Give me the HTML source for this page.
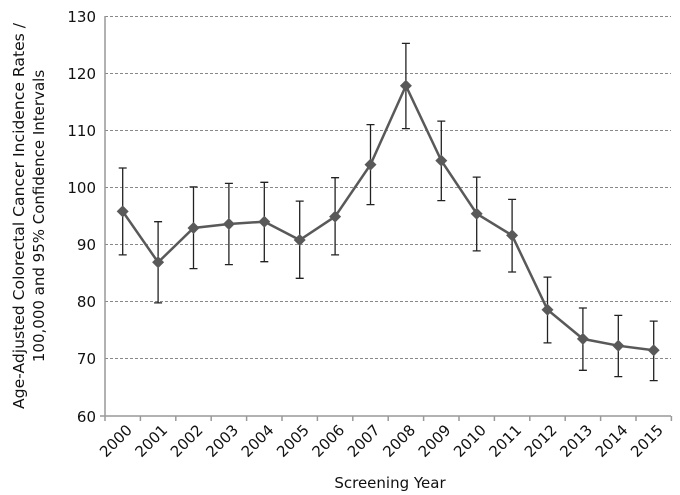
<!DOCTYPE html>
<html><head><style>body{margin:0;background:#fff}svg{display:block;font-family:"DejaVu Sans","Liberation Sans",sans-serif}</style></head><body>
<svg width="680" height="495" viewBox="0 0 680 495">
<g stroke="#888" stroke-dasharray="3,2" stroke-width="1">
<line x1="105" x2="671" y1="16.5" y2="16.5"/><line x1="105" x2="671" y1="73.5" y2="73.5"/><line x1="105" x2="671" y1="130.5" y2="130.5"/><line x1="105" x2="671" y1="187.5" y2="187.5"/><line x1="105" x2="671" y1="244.5" y2="244.5"/><line x1="105" x2="671" y1="301.5" y2="301.5"/><line x1="105" x2="671" y1="358.5" y2="358.5"/>
</g>
<g stroke="#999" stroke-width="1.5"><line x1="105" y1="16" x2="105" y2="416"/><line x1="100" y1="416" x2="671" y2="416"/>
<path d="M105 416v5M140.4 416v5M175.8 416v5M211.2 416v5M246.6 416v5M282 416v5M317.4 416v5M352.8 416v5M388.2 416v5M423.6 416v5M459 416v5M494.4 416v5M529.8 416v5M565.2 416v5M600.6 416v5M636 416v5M671.4 416v5"/></g>
<g font-size="15" text-anchor="end" fill="#111">
<text x="96" y="22">130</text><text x="96" y="79">120</text><text x="96" y="136">110</text><text x="96" y="193">100</text><text x="96" y="250">90</text><text x="96" y="307">80</text><text x="96" y="364">70</text><text x="96" y="422">60</text>
</g>
<g font-size="15" text-anchor="end" fill="#111">
<text transform="translate(133,431) rotate(-45)">2000</text><text transform="translate(168.4,431) rotate(-45)">2001</text><text transform="translate(203.8,431) rotate(-45)">2002</text><text transform="translate(239.2,431) rotate(-45)">2003</text><text transform="translate(274.6,431) rotate(-45)">2004</text><text transform="translate(310,431) rotate(-45)">2005</text><text transform="translate(345.4,431) rotate(-45)">2006</text><text transform="translate(380.8,431) rotate(-45)">2007</text><text transform="translate(416.2,431) rotate(-45)">2008</text><text transform="translate(451.6,431) rotate(-45)">2009</text><text transform="translate(487,431) rotate(-45)">2010</text><text transform="translate(522.4,431) rotate(-45)">2011</text><text transform="translate(557.8,431) rotate(-45)">2012</text><text transform="translate(593.2,431) rotate(-45)">2013</text><text transform="translate(628.6,431) rotate(-45)">2014</text><text transform="translate(664,431) rotate(-45)">2015</text>
</g>
<text x="390" y="488" font-size="15" text-anchor="middle" fill="#111">Screening Year</text>
<g font-size="15" text-anchor="middle" fill="#111" transform="translate(0,216) rotate(-90)">
<text x="0" y="24" textLength="386" lengthAdjust="spacingAndGlyphs">Age-Adjusted Colorectal Cancer Incidence Rates /</text>
<text x="0" y="44">100,000  and 95% Confidence Intervals</text>
</g>
<g stroke="#222" stroke-width="1.3">
<path d="M122.7 168V254.9M118.7 168h8M118.7 254.9h8"/>
<path d="M158.1 221.7V302.9M154.1 221.7h8M154.1 302.9h8"/>
<path d="M193.5 186.9V268.6M189.5 186.9h8M189.5 268.6h8"/>
<path d="M228.9 183.4V264.6M224.9 183.4h8M224.9 264.6h8"/>
<path d="M264.3 182.3V261.7M260.3 182.3h8M260.3 261.7h8"/>
<path d="M299.7 201.1V278.3M295.7 201.1h8M295.7 278.3h8"/>
<path d="M335.1 177.7V254.9M331.1 177.7h8M331.1 254.9h8"/>
<path d="M370.5 124.6V204.6M366.5 124.6h8M366.5 204.6h8"/>
<path d="M405.9 43.4V128.6M401.9 43.4h8M401.9 128.6h8"/>
<path d="M441.3 121.1V200.6M437.3 121.1h8M437.3 200.6h8"/>
<path d="M476.7 177.1V250.9M472.7 177.1h8M472.7 250.9h8"/>
<path d="M512.1 199.4V272M508.1 199.4h8M508.1 272h8"/>
<path d="M547.5 277.1V342.9M543.5 277.1h8M543.5 342.9h8"/>
<path d="M582.9 308V370.3M578.9 308h8M578.9 370.3h8"/>
<path d="M618.3 315.4V376.6M614.3 315.4h8M614.3 376.6h8"/>
<path d="M653.7 321.1V380.6M649.7 321.1h8M649.7 380.6h8"/>
</g>
<polyline fill="none" stroke="#595959" stroke-width="2.5" points="122.7,211.4 158.1,262.3 193.5,228 228.9,224 264.3,221.7 299.7,240 335.1,216.6 370.5,164.6 405.9,85.7 441.3,160.6 476.7,213.7 512.1,235.4 547.5,309.7 582.9,338.9 618.3,345.7 653.7,350.3"/>
<g fill="#595959">
<path d="M122.7 205.4l6 6-6 6-6-6z"/><path d="M158.1 256.3l6 6-6 6-6-6z"/><path d="M193.5 222l6 6-6 6-6-6z"/><path d="M228.9 218l6 6-6 6-6-6z"/><path d="M264.3 215.7l6 6-6 6-6-6z"/><path d="M299.7 234l6 6-6 6-6-6z"/><path d="M335.1 210.6l6 6-6 6-6-6z"/><path d="M370.5 158.6l6 6-6 6-6-6z"/><path d="M405.9 79.7l6 6-6 6-6-6z"/><path d="M441.3 154.6l6 6-6 6-6-6z"/><path d="M476.7 207.7l6 6-6 6-6-6z"/><path d="M512.1 229.4l6 6-6 6-6-6z"/><path d="M547.5 303.7l6 6-6 6-6-6z"/><path d="M582.9 332.9l6 6-6 6-6-6z"/><path d="M618.3 339.7l6 6-6 6-6-6z"/><path d="M653.7 344.3l6 6-6 6-6-6z"/>
</g>
</svg>
</body></html>
